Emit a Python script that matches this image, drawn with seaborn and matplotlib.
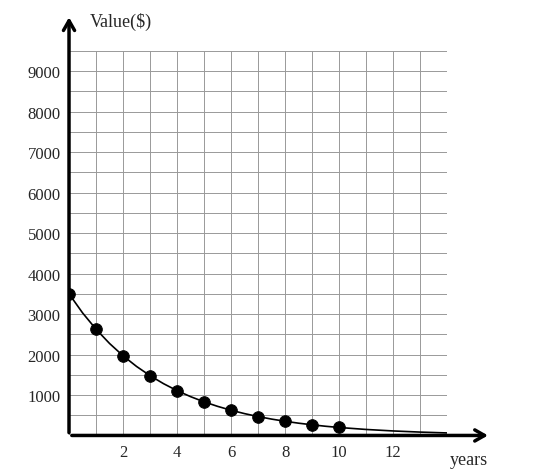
import matplotlib
matplotlib.use('Agg')
import matplotlib.pyplot as plt
import seaborn as sns
import numpy as np

sns.set_style('white')
plt.rcParams['font.family'] = ['Liberation Serif', 'DejaVu Serif']

years = [0, 1, 2, 3, 4, 5, 6, 7, 8, 9, 10]
values = [3500, 2625, 1969, 1477, 1107, 830, 623, 467, 350, 263, 197]
curve_x = [0, 0.5, 1, 1.5, 2, 2.5, 3, 3.5, 4, 4.5, 5, 5.5, 6, 6.5, 7, 7.5, 8, 8.5, 9, 9.5, 10, 11, 12, 13, 14]
curve_y = [3500, 3030, 2625, 2273, 1969, 1705, 1477, 1279, 1107, 959, 830, 719, 623, 539, 467, 404,
           350, 303, 263, 227, 197, 148, 111, 83, 62]
xticks = [2, 4, 6, 8, 10, 12]
yticks = [1000, 2000, 3000, 4000, 5000, 6000, 7000, 8000, 9000]

fig = plt.figure(figsize=(5.35, 4.77), dpi=100)
ax = fig.add_axes([0.129, 0.085, 0.707, 0.806])

sns.lineplot(x=curve_x, y=curve_y, ax=ax, color='black', linewidth=1.2)
sns.scatterplot(x=years, y=values, ax=ax, color='black', s=70, edgecolor='black', zorder=5)

ax.set_xlim(0, 14)
ax.set_ylim(0, 9500)
ax.set_xticks(xticks)
ax.set_yticks(yticks)
ax.set_xticks(np.arange(0, 14.01, 1), minor=True)
ax.set_yticks(np.arange(0, 9501, 500), minor=True)
ax.grid(which='both', color='#999999', linewidth=0.7)
ax.set_xticklabels([str(t) for t in xticks], fontsize=12)
ax.set_yticklabels([str(t) for t in yticks], fontsize=12)
ax.tick_params(which='both', length=0, pad=6)
for s in ax.spines.values():
    s.set_visible(False)

# axis arrows
ax.annotate('', xy=(1.115, 0), xytext=(0, 0), xycoords='axes fraction',
            arrowprops=dict(arrowstyle='->,head_length=0.7,head_width=0.4', color='black', lw=2.5))
ax.annotate('', xy=(0, 1.095), xytext=(0, 0), xycoords='axes fraction',
            arrowprops=dict(arrowstyle='->,head_length=0.7,head_width=0.4', color='black', lw=2.5))
fig.text(0.168, 0.953, 'Value($)', fontsize=13, va='center')
fig.text(0.84, 0.035, 'years', fontsize=13, va='center')

fig.savefig('out.png', dpi=100)
